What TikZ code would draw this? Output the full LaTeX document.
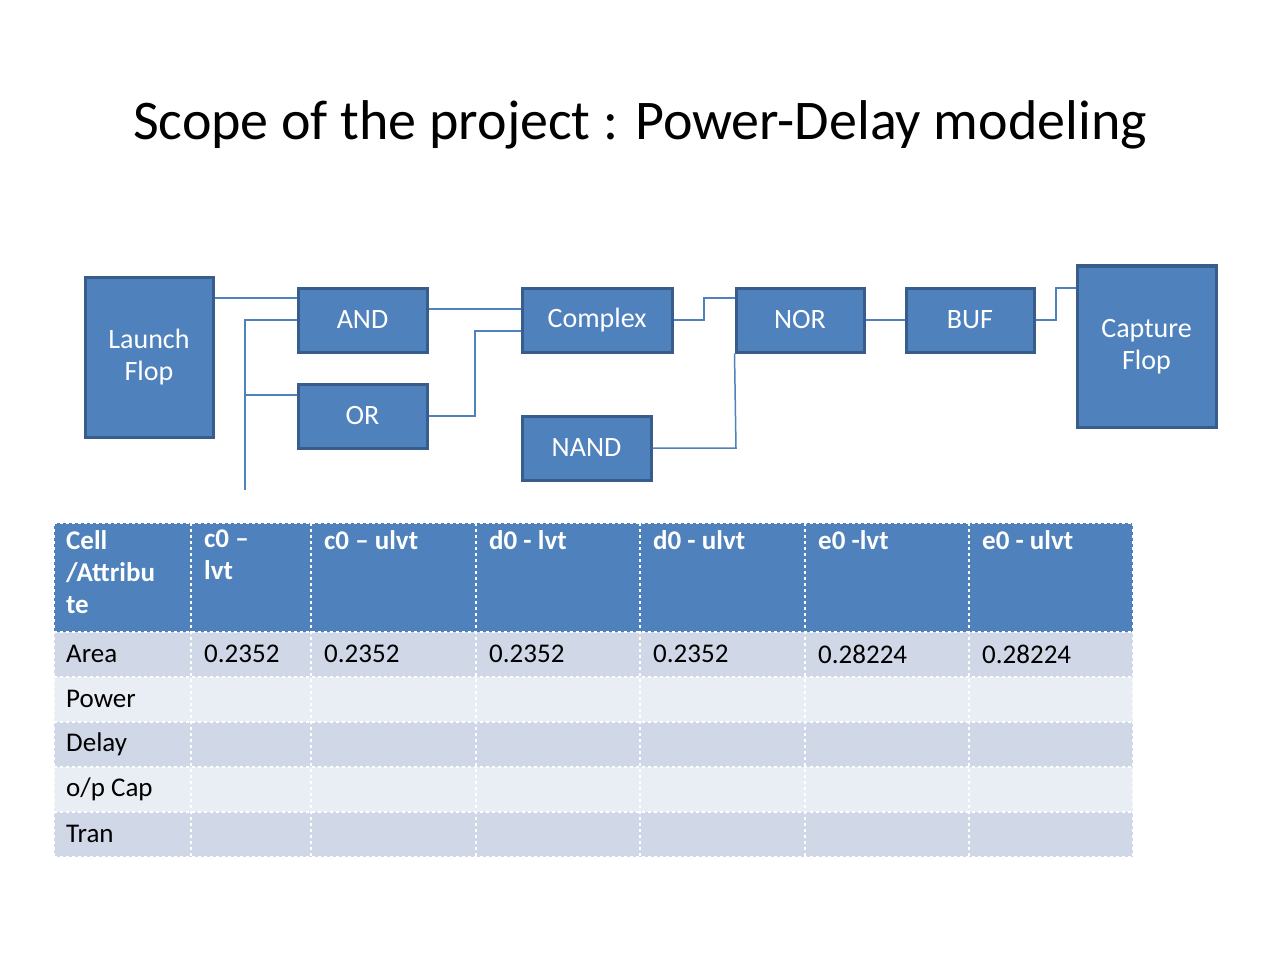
\documentclass[tikz,border=0pt]{standalone}
\usepackage{fontspec}
\setmainfont{Carlito}
\definecolor{boxfill}{HTML}{4F81BD}
\definecolor{boxline}{HTML}{385D8A}
\definecolor{rowA}{HTML}{D0D8E8}
\definecolor{rowB}{HTML}{E9EDF4}
\begin{document}
\begin{tikzpicture}[x=1pt,y=-1pt,
  gate/.style={draw=boxline,line width=3pt,fill=boxfill,text=white,font=\fontsize{28}{32}\selectfont,align=center,inner sep=0pt},
  wire/.style={draw=boxfill,line width=1.5pt},
  hd/.style={anchor=north west,text=white,font=\bfseries\fontsize{27}{32}\selectfont,align=left,inner sep=0pt},
  bd/.style={anchor=west,font=\fontsize{27}{32}\selectfont,inner sep=0pt}]
\useasboundingbox (0,0) rectangle (1280,960);
\node (title) at (640,125) {\fontsize{56}{64}\selectfont Scope of the project : Power-Delay modeling};
\def\gbox#1#2#3#4#5#6{\node[gate,minimum width=#4-#2,minimum height=#5-#3] (#1) at ({(#2+#4)/2},{(#3+#5)/2}) {#6};}
\gbox{launch}{85}{277}{213}{437}{Launch\\Flop}
\gbox{and}{298}{288}{427}{352}{AND}
\gbox{or}{298}{384}{427}{448}{OR}
\gbox{cplx}{522}{288}{672}{352}{Complex}
\gbox{nand}{522}{416}{651}{480}{NAND}
\gbox{nor}{736}{288}{864}{352}{NOR}
\gbox{buf}{906}{288}{1034}{352}{BUF}
\gbox{cap}{1077}{266}{1216}{427}{Capture\\Flop}
\coordinate (tapend) at (245,490);
\coordinate (tap1) at (245,320);
\coordinate (tap2) at (245,395);
\draw[wire] (launch.east |- 0,298) -- (and.west |- 0,298);
\draw[wire] (tapend) -- (tap1) -- (and.west |- tap1);
\draw[wire] (tap2) -- (or.west |- tap2);
\draw[wire] (and.east |- 0,309) -- (cplx.west |- 0,309);
\draw[wire] (or.east |- 0,416) -- (475,416) -- (475,331) -- (cplx.west |- 0,331);
\draw[wire] (cplx.east |- 0,320) -- (704,320) -- (704,298) -- (nor.west |- 0,298);
\draw[wire] (nand.east |- 0,448) -- (736,448) -- (nor.south west);
\draw[wire] (nor.east |- 0,320) -- (buf.west |- 0,320);
\draw[wire] (buf.east |- 0,320) -- (1056,320) -- (1056,288) -- (cap.west |- 0,288);
% table
\fill[boxfill] (54,523) rectangle (1133,632);
\foreach \t/\b/\c in {632/677/rowA,677/722/rowB,722/767/rowA,767/812/rowB,812/857/rowA}
  \fill[\c] (54,\t) rectangle (1133,\b);
\foreach \x in {54,191,311,476,640,805,969,1133}
  \draw[white,dashed,line width=1.5pt] (\x,523) -- (\x,857);
\foreach \y in {523,632,677,722,767,812,857}
  \draw[white,dashed,line width=1.5pt] (54,\y) -- (1133,\y);
\node[hd] (h1) at (66,530) {Cell\\/Attribu\\te};
\node[hd] (h2) at (204,530) {c0 –\\lvt};
\node[hd] (h3) at (324,530) {c0 – ulvt};
\node[hd] (h4) at (489,530) {d0 - lvt};
\node[hd] (h5) at (653,530) {d0 - ulvt};
\node[hd] (h6) at (818,530) {e0 -lvt};
\node[hd] (h7) at (982,530) {e0 - ulvt};
\node[bd] (r1) at (66,654) {Area};
\node[bd] (r2) at (66,699) {Power};
\node[bd] (r3) at (66,744) {Delay};
\node[bd] (r4) at (66,789) {o/p Cap};
\node[bd] (r5) at (66,834) {Tran};
\node[bd] (v2) at (204,654) {0.2352};
\node[bd] (v3) at (324,654) {0.2352};
\node[bd] (v4) at (489,654) {0.2352};
\node[bd] (v5) at (653,654) {0.2352};
\node[bd] (v6) at (818,654) {0.28224};
\node[bd] (v7) at (982,654) {0.28224};
\end{tikzpicture}
\end{document}
